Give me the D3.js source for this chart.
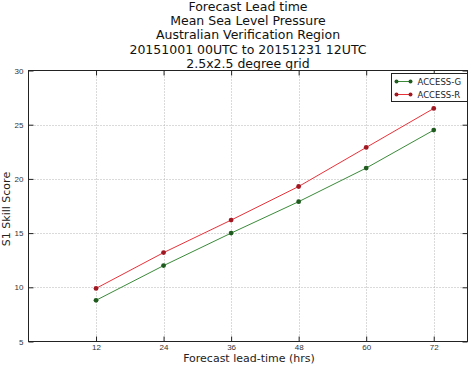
<!DOCTYPE html>
<html><head><meta charset="utf-8">
<script src="https://cdn.jsdelivr.net/npm/d3@7"></script>
<style>body{margin:0;background:#fff;} svg{display:block;font-family:"DejaVu Sans",sans-serif;}</style>
</head><body>
<svg id="c" width="474" height="366"></svg>
<script>
const leadTimes = [12, 24, 36, 48, 60, 72];
const accessG = [8.8, 12.0, 15.0, 17.9, 21.0, 24.5];
const accessR = [9.9, 13.2, 16.2, 19.3, 22.9, 26.5];
const yTicks = [5, 10, 15, 20, 25, 30];
const titleLines = ["Forecast Lead time", "Mean Sea Level Pressure", "Australian Verification Region", "20151001 00UTC to 20151231 12UTC", "2.5x2.5 degree grid"];
const seriesNames = ["ACCESS-G", "ACCESS-R"];

const svg = d3.select("#c");
const L = 28.5, R = 467.5, T = 70.5, B = 341.5;
const x = d3.scaleLinear().domain([0, 78]).range([L, R]);
const y = d3.scaleLinear().domain([5, 30]).range([B, T]);

// title
svg.selectAll("text.title").data(titleLines).enter().append("text")
  .attr("x", 248).attr("y", (d, i) => 11 + i * 14.2)
  .attr("text-anchor", "middle").attr("font-size", 12.5).attr("fill", "#111").text(d => d);

// grid
const g = svg.append("g");
g.selectAll("line.gy").data(yTicks.slice(1, -1)).enter().append("line")
  .attr("x1", L).attr("x2", R).attr("y1", d => Math.round(y(d)) + 0.5).attr("y2", d => Math.round(y(d)) + 0.5)
  .attr("stroke", "#b5b5b5").attr("stroke-width", 1).attr("stroke-dasharray", "1,2");
g.selectAll("line.gx").data(leadTimes).enter().append("line")
  .attr("y1", T).attr("y2", B).attr("x1", d => Math.round(x(d)) + 0.5).attr("x2", d => Math.round(x(d)) + 0.5)
  .attr("stroke", "#b5b5b5").attr("stroke-width", 1).attr("stroke-dasharray", "1,2");

// axes
const axB = d3.axisBottom(x).tickValues(leadTimes).tickSize(-5).tickPadding(3).tickFormat(d3.format("d"));
const axT = d3.axisTop(x).tickValues(leadTimes).tickSize(-5).tickFormat("");
const axL = d3.axisLeft(y).tickValues(yTicks).tickSize(-5).tickPadding(5);
const axR = d3.axisRight(y).tickValues(yTicks).tickSize(-5).tickFormat("");
function style(sel) {
  sel.select(".domain").remove();
  sel.selectAll("line").attr("stroke", "#222");
  sel.selectAll("text").attr("font-size", 8).attr("fill", "#333");
}
svg.append("g").attr("transform", `translate(0,${B})`).call(axB).call(style);
svg.append("g").attr("transform", `translate(0,${T})`).call(axT).call(style);
svg.append("g").attr("transform", `translate(${L},0)`).call(axL).call(style);
svg.append("g").attr("transform", `translate(${R},0)`).call(axR).call(style);
svg.append("rect").attr("x", L).attr("y", T).attr("width", R - L).attr("height", B - T)
  .attr("fill", "none").attr("stroke", "#222").attr("stroke-width", 1);

// series
const series = [
  {name: seriesNames[0], vals: accessG, line: "#3a8a3a", dot: "#1f5a1f"},
  {name: seriesNames[1], vals: accessR, line: "#e8323a", dot: "#a01822"}
];
const lineGen = d3.line().x(d => x(d[0])).y(d => y(d[1]));
series.forEach(s => {
  const pts = leadTimes.map((t, i) => [t, s.vals[i]]);
  svg.append("path").datum(pts).attr("d", lineGen).attr("fill", "none").attr("stroke", s.line).attr("stroke-width", 1);
  svg.selectAll(null).data(pts).enter().append("circle")
    .attr("cx", d => x(d[0])).attr("cy", d => y(d[1])).attr("r", 2.4).attr("fill", s.dot);
});

// axis labels
svg.append("text").attr("x", 249).attr("y", 362).attr("text-anchor", "middle")
  .attr("font-size", 11).attr("fill", "#222").text("Forecast lead-time (hrs)");
svg.append("text").attr("transform", `translate(10,${(T + B) / 2 + 3}) rotate(-90)`).attr("text-anchor", "middle")
  .attr("font-size", 11).attr("fill", "#222").text("S1 Skill Score");

// legend
const lg = svg.append("g").attr("transform", "translate(391.5,73.5)");
lg.append("rect").attr("width", 76).attr("height", 28).attr("fill", "#fff").attr("stroke", "#222");
series.forEach((s, i) => {
  const yy = 8 + i * 13;
  lg.append("line").attr("x1", 4).attr("x2", 20).attr("y1", yy).attr("y2", yy).attr("stroke", s.line);
  lg.append("circle").attr("cx", 5).attr("cy", yy).attr("r", 2).attr("fill", s.dot);
  lg.append("circle").attr("cx", 19).attr("cy", yy).attr("r", 2).attr("fill", s.dot);
  lg.append("text").attr("x", 26).attr("y", yy + 3).attr("font-size", 8.5).attr("fill", "#222").text(s.name);
});
</script>
</body></html>
